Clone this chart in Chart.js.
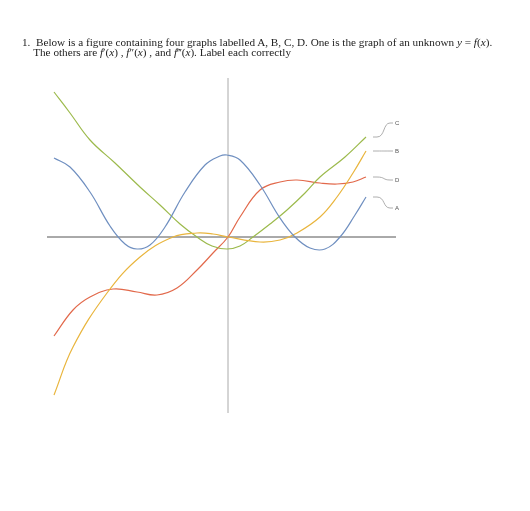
<!DOCTYPE html>
<html><head><meta charset="utf-8">
<script src="https://cdn.jsdelivr.net/npm/chart.js@4"></script>
<style>
body{margin:0;background:#fff;width:530px;height:511px;overflow:hidden;position:relative}
#t{position:absolute;left:22px;top:37px;font:11.2px "Liberation Serif",serif;color:#222;line-height:10px;white-space:nowrap}
#t i{font-style:italic}
canvas{position:absolute;left:0;top:0}
</style></head><body>
<canvas id="c" width="530" height="511"></canvas>
<div id="t">1.&nbsp; Below is a figure containing four graphs labelled A, B, C, D. One is the graph of an unknown <i>y</i> = <i>f</i>(<i>x</i>).<br>&nbsp;&nbsp;&nbsp;&nbsp;The others are <i>f</i>′(<i>x</i>) , <i>f</i>″(<i>x</i>) , and <i>f</i>‴(<i>x</i>). Label each correctly</div>
<script>
// x, y in plot units (origin at the axes crossing)
const seriesA = [[-174,79],[-158,70],[-138,45],[-118,11],[-103,-7],[-91,-12],[-78,-8],[-63,10],[-43,45],[-23,72],[-8,81],[-1,82],[12,77],[32,52],[52,19],[67,0],[82,-11],[97,-12],[112,0],[127,22],[138,40]];
const seriesB = [[-174,-158],[-155,-110],[-121,-56],[-88,-20],[-55,0],[-31,4],[-15,3],[0,0],[32,-5],[52,-3],[69,4],[92,20],[109,40],[125,64],[138,86]];
const seriesC = [[-174,145],[-158,124],[-138,97],[-113,74],[-88,50],[-68,32],[-48,13],[-31,0],[-16,-9],[-1,-12],[12,-9],[25,0],[42,13],[59,27],[77,44],[92,60],[117,80],[138,100]];
const seriesD = [[-174,-99],[-155,-73],[-138,-60],[-115,-52],[-91,-55],[-71,-58],[-51,-51],[-31,-33],[-15,-16],[0,0],[12,20],[32,47],[52,55],[69,57],[92,54],[109,53],[125,55],[138,60]];
const names = ['A','B','C','D'];
const colors = ['#6f8fc0','#e9b53d','#9cba4c','#e2694b'];
const labelY = [29,86,114,57];
const xMin=-181,xMax=168,yMin=-176,yMax=159;
const all=[seriesA,seriesB,seriesC,seriesD];
const extras={id:'extras',
 beforeDatasetsDraw(ch){const c=ch.ctx,x=ch.scales.x,y=ch.scales.y;
  c.save();c.lineWidth=1;
  c.strokeStyle='#555';c.beginPath();c.moveTo(x.getPixelForValue(xMin),y.getPixelForValue(0));c.lineTo(x.getPixelForValue(xMax),y.getPixelForValue(0));c.stroke();
  c.strokeStyle='#aaa';c.beginPath();c.moveTo(x.getPixelForValue(0),y.getPixelForValue(yMin));c.lineTo(x.getPixelForValue(0),y.getPixelForValue(yMax));c.stroke();
  c.restore();},
 afterDatasetsDraw(ch){const c=ch.ctx,x=ch.scales.x,y=ch.scales.y;
  c.save();c.strokeStyle='#999';c.lineWidth=0.8;c.fillStyle='#555';c.font='6px "Liberation Sans",sans-serif';c.textBaseline='middle';
  all.forEach((s,i)=>{const lp=s[s.length-1];const x0=x.getPixelForValue(lp[0])+7,y0=y.getPixelForValue(lp[1]);const ly=y.getPixelForValue(labelY[i]);const x1=x0+20;
   c.beginPath();c.moveTo(x0,y0);c.lineTo(x0+4,y0);c.bezierCurveTo(x0+12,y0,x0+10,ly,x1-3,ly);c.lineTo(x1,ly);c.stroke();
   c.fillText(names[i],x1+2,ly);});
  c.restore();}};
new Chart(document.getElementById('c'),{type:'line',
 data:{datasets:all.map((s,i)=>({label:names[i],data:s.map(p=>({x:p[0],y:p[1]})),borderColor:colors[i],borderWidth:1.2,pointRadius:0,tension:0.4,fill:false}))},
 options:{responsive:false,animation:false,devicePixelRatio:1,
  layout:{padding:{left:47,right:134,top:78,bottom:98}},
  plugins:{legend:{display:false},tooltip:{enabled:false}},
  scales:{x:{type:'linear',min:xMin,max:xMax,display:false},y:{type:'linear',min:yMin,max:yMax,display:false}}},
 plugins:[extras]});
</script></body></html>
